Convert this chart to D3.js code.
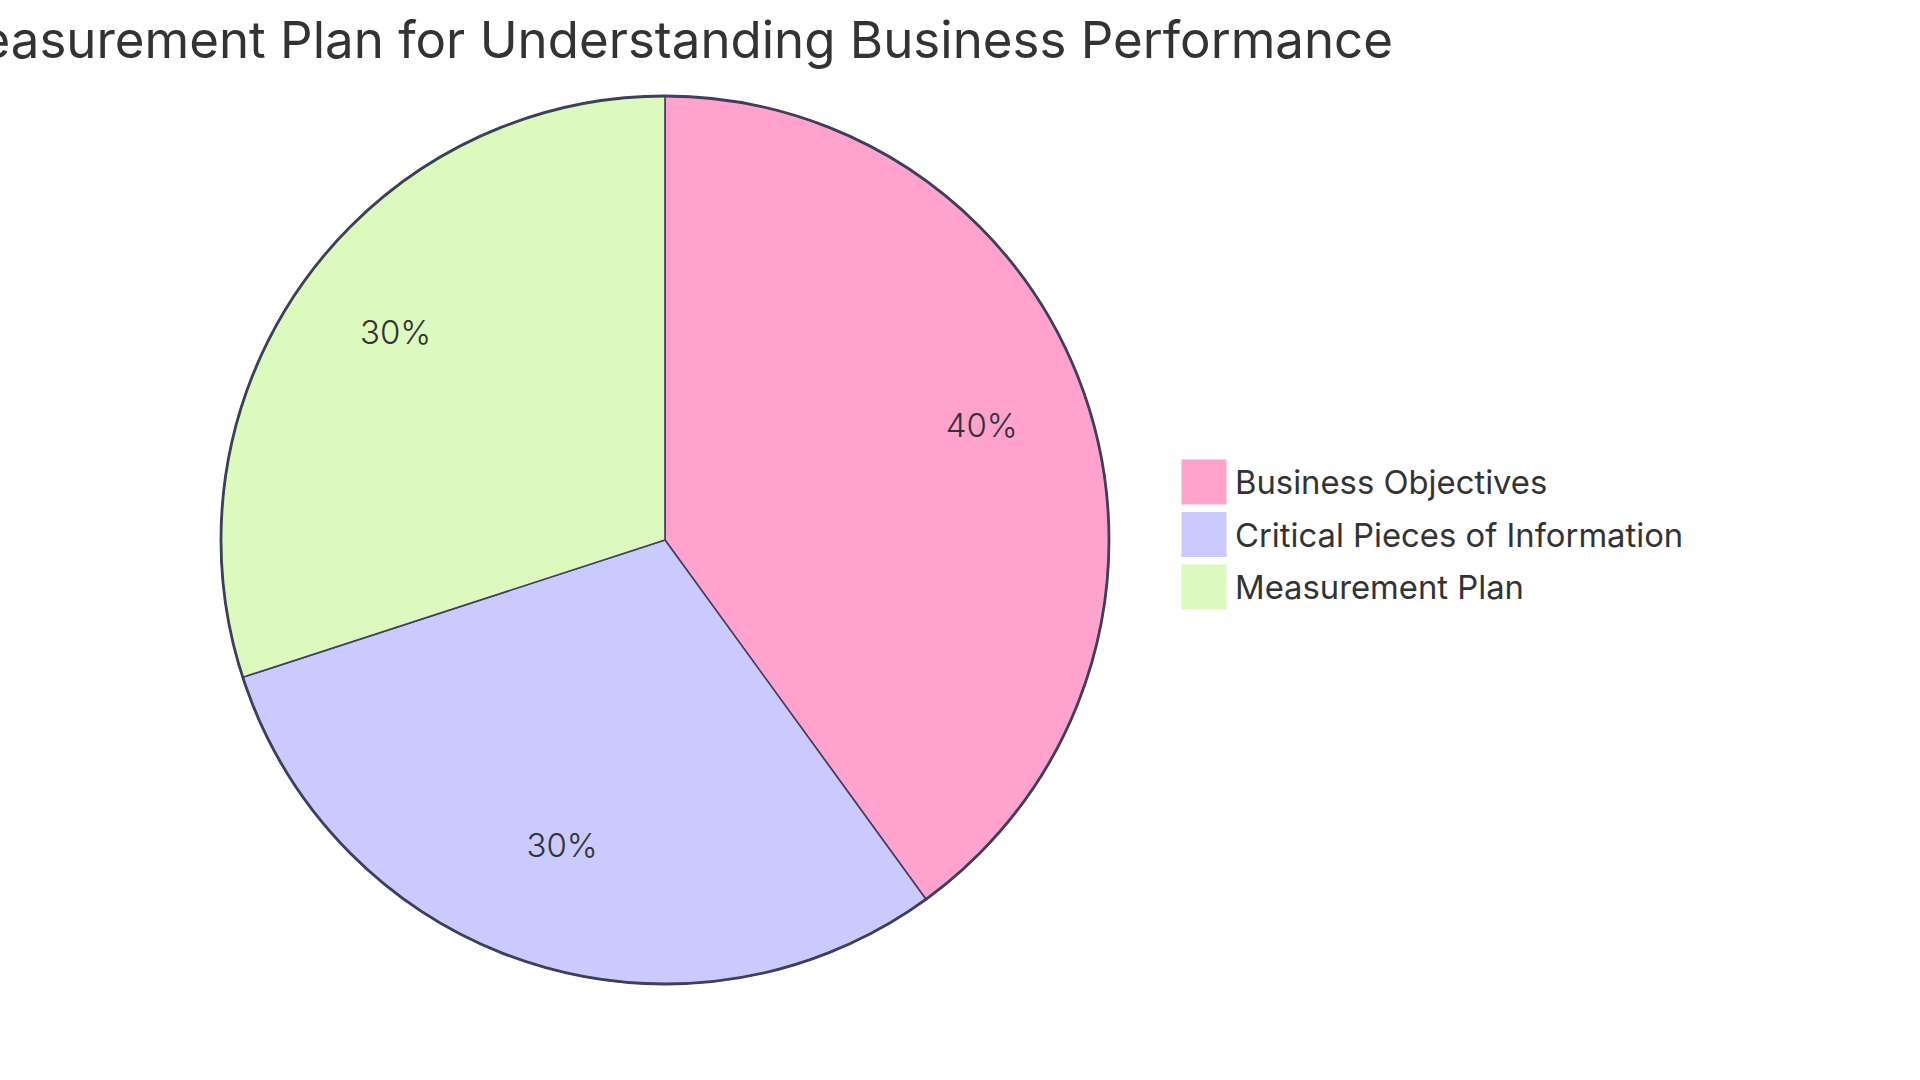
<!DOCTYPE html>
<html>
<head>
<meta charset="utf-8">
<script src="https://cdn.jsdelivr.net/npm/d3@7/dist/d3.min.js"></script>
<style>
  html, body { margin: 0; padding: 0; background: #ffffff; overflow: hidden; }
  svg { display: block; }
</style>
</head>
<body>
<svg id="chart" width="1920" height="1080"></svg>
<script>
const titleText = "Measurement Plan for Understanding Business Performance";
const categories = ["Business Objectives", "Critical Pieces of Information", "Measurement Plan"];
const values = [40, 30, 30];
const colors = ["#FFA3CE", "#CACAFF", "#DCFABD"];

const W = 1920, H = 1080;
const cx = 665, cy = 540, radius = 444;
const fontFamily = "Inter, 'Open Sans', sans-serif";
const textColor = "#333333";
const strokeColor = "#3d3f5c";

const svg = d3.select("#chart");

// Title
svg.append("text")
  .attr("x", 1393)
  .attr("y", 58)
  .attr("text-anchor", "end")
  .attr("font-family", fontFamily)
  .attr("font-size", 51)
  .attr("fill", textColor)
  .text(titleText);

const data = categories.map((c, i) => ({ label: c, value: values[i], color: colors[i] }));
const total = d3.sum(values);

const pie = d3.pie().value(d => d.value).sort(null);
const arcs = pie(data);
const arc = d3.arc().innerRadius(0).outerRadius(radius);
const labelArc = d3.arc().innerRadius(radius * 0.75).outerRadius(radius * 0.75);

const g = svg.append("g").attr("transform", `translate(${cx},${cy})`);

g.selectAll("path.slice")
  .data(arcs)
  .join("path")
  .attr("class", "slice")
  .attr("d", arc)
  .attr("fill", d => d.data.color)
  .attr("stroke", strokeColor)
  .attr("stroke-width", 1.6);

g.append("circle")
  .attr("r", radius)
  .attr("fill", "none")
  .attr("stroke", strokeColor)
  .attr("stroke-width", 2.8);

g.selectAll("text.pct")
  .data(arcs)
  .join("text")
  .attr("class", "pct")
  .attr("transform", d => `translate(${labelArc.centroid(d)})`)
  .attr("text-anchor", "middle")
  .attr("font-family", fontFamily)
  .attr("font-size", 33)
  .attr("font-weight", 300)
  .attr("fill", textColor)
  .text(d => Math.round(d.data.value / total * 100) + "%");

// Legend
const legendX = 1182, legendY = 460, boxSize = 44, legendStep = 52.5;
const legend = svg.append("g");
const items = legend.selectAll("g.item")
  .data(data)
  .join("g")
  .attr("class", "item")
  .attr("transform", (d, i) => `translate(${legendX},${legendY + i * legendStep})`);

items.append("rect")
  .attr("width", boxSize)
  .attr("height", boxSize)
  .attr("fill", d => d.color)
  .attr("stroke", d => d.color);

items.append("text")
  .attr("x", 53)
  .attr("y", 34)
  .attr("font-family", fontFamily)
  .attr("font-size", 32.8)
  .attr("fill", textColor)
  .text(d => d.label);
</script>
</body>
</html>
